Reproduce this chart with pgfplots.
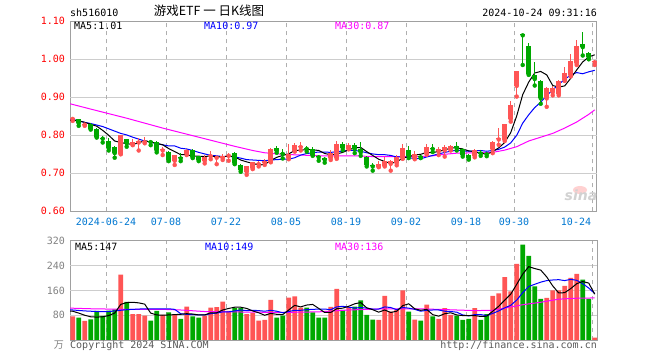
\documentclass[border=0pt]{standalone}
\usepackage{pgfplots}
\pgfplotsset{compat=1.18}
\usepackage{pgfplotstable}
\usepackage{fontspec}
\setmainfont{DejaVu Sans}
\setmonofont{DejaVu Sans Mono}
\newfontfamily\cjk{Noto Sans CJK SC}
\definecolor{cred}{RGB}{255,85,85}
\definecolor{cgreen}{RGB}{0,168,0}
\definecolor{pricered}{RGB}{255,0,0}
\definecolor{dateblue}{RGB}{0,120,210}
\definecolor{labgray}{RGB}{130,130,130}
\definecolor{framegray}{RGB}{160,160,160}
\definecolor{gridgray}{RGB}{175,175,175}
\definecolor{dotgray}{RGB}{205,205,205}
\definecolor{txtgray}{RGB}{90,90,90}
\definecolor{mablue}{RGB}{0,0,255}
\definecolor{mamag}{RGB}{255,0,255}

\pgfplotstableread{
i O H L C
0 0.843 0.848 0.838 0.846
2 0.828 0.832 0.825 0.831
8 0.751 0.800 0.750 0.800
10 0.775 0.790 0.774 0.782
11 0.781 0.793 0.760 0.784
12 0.782 0.795 0.779 0.785
15 0.760 0.770 0.748 0.763
17 0.733 0.749 0.722 0.747
19 0.752 0.763 0.748 0.760
22 0.733 0.748 0.726 0.744
23 0.745 0.759 0.737 0.748
24 0.741 0.746 0.724 0.744
25 0.740 0.751 0.735 0.746
26 0.746 0.753 0.733 0.749
29 0.704 0.719 0.696 0.718
30 0.713 0.731 0.711 0.729
31 0.724 0.733 0.718 0.728
32 0.728 0.738 0.722 0.732
33 0.730 0.766 0.729 0.764
36 0.740 0.777 0.737 0.750
37 0.759 0.779 0.757 0.774
38 0.769 0.782 0.760 0.772
43 0.739 0.760 0.735 0.753
44 0.741 0.786 0.738 0.777
46 0.764 0.779 0.763 0.775
51 0.717 0.732 0.716 0.725
52 0.720 0.744 0.718 0.732
53 0.725 0.735 0.707 0.733
54 0.727 0.748 0.721 0.742
55 0.740 0.777 0.738 0.767
57 0.740 0.759 0.737 0.751
59 0.751 0.776 0.749 0.769
61 0.758 0.768 0.748 0.763
62 0.760 0.775 0.744 0.769
63 0.762 0.775 0.760 0.771
67 0.746 0.763 0.742 0.760
70 0.763 0.785 0.753 0.783
71 0.789 0.818 0.775 0.792
72 0.788 0.830 0.785 0.829
73 0.843 0.890 0.836 0.880
74 0.930 0.970 0.902 0.969
79 0.897 0.928 0.875 0.924
80 0.913 0.930 0.905 0.924
81 0.909 0.946 0.905 0.943
82 0.946 0.981 0.943 0.963
83 0.958 1.015 0.955 0.995
84 0.989 1.051 0.985 1.034
87 0.992 0.998 0.985 0.996
}\redc

\pgfplotstableread{
i O H L C
1 0.842 0.844 0.825 0.832
3 0.830 0.832 0.815 0.817
4 0.817 0.818 0.794 0.796
5 0.794 0.798 0.781 0.791
6 0.785 0.792 0.760 0.766
7 0.768 0.773 0.741 0.753
9 0.790 0.791 0.770 0.779
13 0.785 0.788 0.774 0.782
14 0.782 0.784 0.755 0.760
16 0.756 0.758 0.732 0.735
18 0.742 0.753 0.732 0.739
20 0.760 0.763 0.740 0.742
21 0.745 0.746 0.732 0.735
27 0.753 0.755 0.724 0.726
28 0.722 0.724 0.704 0.709
34 0.767 0.773 0.754 0.759
35 0.754 0.764 0.739 0.751
39 0.767 0.771 0.757 0.764
40 0.764 0.770 0.746 0.748
41 0.745 0.747 0.733 0.742
42 0.739 0.742 0.728 0.736
45 0.777 0.783 0.761 0.767
47 0.775 0.780 0.753 0.764
48 0.765 0.782 0.746 0.755
49 0.744 0.746 0.718 0.723
50 0.721 0.728 0.707 0.718
56 0.761 0.772 0.740 0.746
58 0.745 0.748 0.740 0.742
60 0.767 0.777 0.756 0.764
64 0.772 0.783 0.760 0.767
65 0.763 0.766 0.744 0.749
66 0.748 0.750 0.736 0.739
68 0.755 0.760 0.746 0.752
69 0.754 0.757 0.745 0.750
75 1.066 1.067 0.985 1.063
76 1.036 1.042 0.959 0.961
77 0.958 0.992 0.931 0.948
78 0.943 0.945 0.883 0.897
85 1.040 1.071 1.010 1.032
86 1.016 1.020 1.000 1.005
}\greenc

\pgfplotstableread{
i v
0 76
2 62
8 211
10 84
11 84
12 79
15 81
17 81
19 108
22 79
23 105
24 106
25 124
26 94
29 84
30 87
31 63
32 65
33 130
36 137
37 141
38 105
43 107
44 165
46 106
51 65
52 143
53 92
54 97
55 160
57 66
59 114
61 68
62 103
63 81
67 103
70 143
71 151
72 203
73 157
74 246
79 136
80 160
81 160
82 175
83 201
84 214
87 8
}\volred

\pgfplotstableread{
i v
1 72
3 67
4 94
5 78
6 95
7 99
9 123
13 63
14 94
16 89
18 68
20 76
21 72
27 103
28 103
34 72
35 79
39 105
40 89
41 72
42 72
45 97
47 108
48 128
49 81
50 66
56 92
58 63
60 76
64 79
65 65
66 68
68 65
69 84
75 308
76 272
77 173
78 133
85 195
86 133
}\volgreen

\pgfplotstableread{
i v
-0.45 0.839
0 0.839
1 0.838
2 0.834
3 0.829
4 0.824
5 0.813
6 0.800
7 0.785
8 0.781
9 0.778
10 0.776
11 0.780
12 0.786
13 0.782
14 0.779
15 0.775
16 0.765
17 0.757
18 0.749
19 0.749
20 0.745
21 0.745
22 0.744
23 0.746
24 0.743
25 0.743
26 0.746
27 0.743
28 0.735
29 0.730
30 0.726
31 0.722
32 0.723
33 0.734
34 0.742
35 0.747
36 0.751
37 0.760
38 0.761
39 0.762
40 0.762
41 0.760
42 0.752
43 0.749
44 0.751
45 0.755
46 0.762
47 0.767
48 0.768
49 0.757
50 0.747
51 0.737
52 0.731
53 0.726
54 0.730
55 0.740
56 0.744
57 0.748
58 0.750
59 0.755
60 0.754
61 0.758
62 0.761
63 0.767
64 0.767
65 0.764
66 0.759
67 0.757
68 0.753
69 0.750
70 0.757
71 0.767
72 0.781
73 0.807
74 0.851
75 0.907
76 0.940
77 0.964
78 0.968
79 0.959
80 0.931
81 0.927
82 0.930
83 0.950
84 0.972
85 0.993
86 1.006
87 1.012
}\mafive

\pgfplotstableread{
i v
-0.45 0.843
0 0.842
1 0.838
2 0.834
3 0.831
4 0.827
5 0.823
6 0.817
7 0.811
8 0.805
9 0.801
10 0.795
11 0.790
12 0.785
13 0.782
14 0.778
15 0.775
16 0.772
17 0.772
18 0.766
19 0.764
20 0.760
21 0.755
22 0.751
23 0.747
24 0.746
25 0.744
26 0.745
27 0.743
28 0.740
29 0.736
30 0.735
31 0.734
32 0.733
33 0.735
34 0.736
35 0.737
36 0.737
37 0.741
38 0.748
39 0.752
40 0.754
41 0.756
42 0.756
43 0.755
44 0.757
45 0.758
46 0.761
47 0.760
48 0.758
49 0.754
50 0.751
51 0.749
52 0.749
53 0.747
54 0.743
55 0.743
56 0.741
57 0.739
58 0.738
59 0.743
60 0.747
61 0.751
62 0.755
63 0.758
64 0.761
65 0.759
66 0.758
67 0.759
68 0.760
69 0.758
70 0.760
71 0.763
72 0.769
73 0.780
74 0.800
75 0.832
76 0.854
77 0.873
78 0.887
79 0.905
80 0.919
81 0.934
82 0.947
83 0.959
84 0.965
85 0.962
86 0.967
87 0.971
}\maten

\pgfplotstableread{
i v
-0.45 0.883
3 0.869
6 0.857
9 0.845
12 0.832
15 0.819
18 0.807
21 0.795
24 0.783
27 0.771
30 0.760
32 0.754
35 0.750
38 0.748
41 0.746
44 0.746
47 0.746
50 0.744
54 0.744
58 0.744
60 0.746
62 0.750
64 0.753
68 0.754
70 0.755
72 0.761
74 0.770
76 0.785
78 0.795
80 0.805
82 0.819
84 0.835
86 0.855
87 0.867
}\mathirty

\pgfplotstableread{
i v
-0.45 93
0 93
1 87
2 80
3 75
4 74
5 75
6 79
7 87
8 115
9 121
10 122
11 120
12 116
13 87
14 81
15 80
16 81
17 82
18 83
19 85
20 84
21 81
22 81
23 88
24 88
25 97
26 102
27 106
28 106
29 102
30 94
31 88
32 80
33 86
34 83
35 82
36 97
37 112
38 107
39 113
40 115
41 102
42 89
43 89
44 101
45 103
46 109
47 117
48 121
49 104
50 98
51 90
52 97
53 89
54 93
55 111
56 117
57 101
58 96
59 99
60 82
61 77
62 85
63 88
64 81
65 79
66 79
67 79
68 76
69 77
70 93
71 109
72 129
73 148
74 180
75 213
76 237
77 231
78 226
79 204
80 175
81 152
82 153
83 166
84 182
85 189
86 184
87 148
}\vfive

\pgfplotstableread{
i v
-0.45 97
0 97
2 94
4 92
6 92
8 96
9 98
10 99
11 100
12 101
13 101
14 101
15 101
16 101
17 99
18 85
19 83
20 82
21 81
22 81
23 85
24 87
25 91
26 91
27 94
28 97
29 95
30 96
31 95
32 93
33 96
34 93
35 88
36 92
37 96
38 96
39 98
40 99
41 100
42 100
43 98
44 107
45 109
46 106
47 103
48 105
49 103
50 100
51 100
52 107
53 105
54 98
55 105
56 103
57 99
58 93
59 96
60 97
61 97
62 93
63 92
64 90
65 81
66 78
67 82
68 82
69 79
70 86
71 94
72 104
73 112
74 129
75 153
76 173
77 180
78 187
79 192
80 194
81 195
82 192
83 196
84 193
85 182
86 168
87 150
}\vten

\pgfplotstableread{
i v
-0.45 103
3 101
9 99
15 99
18 97
22 92
26 91
30 90
35 89
41 91
46 97
52 101
57 101
61 99
64 97
67 95
70 96
72 103
75 114
78 122
81 132
84 135
87 136
}\vthirty

% dash segments of the vertical date lines (start, end, break)
\pgfplotstableread{
y
0.6000
0.6105
nan
0.6211
0.6316
nan
0.6421
0.6526
nan
0.6632
0.6737
nan
0.6842
0.6947
nan
0.7053
0.7158
nan
0.7263
0.7368
nan
0.7474
0.7579
nan
0.7684
0.7789
nan
0.7895
0.8000
nan
0.8105
0.8210
nan
0.8316
0.8421
nan
0.8526
0.8631
nan
0.8737
0.8842
nan
0.8947
0.9052
nan
0.9158
0.9263
nan
0.9368
0.9473
nan
0.9579
0.9684
nan
0.9789
0.9894
nan
1.0000
1.0105
nan
1.0211
1.0316
nan
1.0421
1.0526
nan
1.0632
1.0737
nan
1.0842
1.0947
}\pdash

\pgfplotstableread{
y
0
12.9
nan
25.9
38.8
nan
51.7
64.6
nan
77.6
90.5
nan
103.4
116.3
nan
129.3
142.2
nan
155.2
168.1
nan
181.0
193.9
nan
206.9
219.8
nan
232.7
245.6
nan
258.6
271.5
nan
284.5
297.4
nan
310.3
320
}\vdash

\pgfplotsset{
  kbase/.style={scale only axis, width=527bp, xmin=-0.45, xmax=87.38,
    axis line style={draw=framegray, line width=1bp},
    major tick length=0pt,
    xtick={5.55,15.55,25.55,35.55,45.55,55.55,65.55,73.55},
    extra x ticks={86.55},
    tick label style={font=\fontsize{10bp}{12bp}\selectfont\ttfamily},
    yticklabel style={xshift=-1.5bp, /pgf/number format/assume math mode=true},
    unbounded coords=jump,
  },
  hgrid/.style={dotgray, line width=1bp, forget plot},
  vgrid/.style={gridgray, line width=1bp, mark=none, forget plot},
  candle/.style 2 args={#1, only marks, mark=none, forget plot,
    error bars/.cd, y dir=plus, y explicit, error mark=none,
    error bar style={#1, line width=#2}},
  maline/.style={#1, line width=1bp, mark=none, forget plot},
}

\begin{document}
\begin{tikzpicture}
\useasboundingbox (0,0) rectangle (660bp,360bp);
\fill[white] (0,0) rectangle (660bp,360bp);

\begin{axis}[kbase, at={(70bp,148.7bp)}, anchor=south west, height=190bp,
  ymin=0.6, ymax=1.1, ytick={0.6,0.7,0.8,0.9,1.0,1.1},
  xticklabels={2024-06-24,07-08,07-22,08-05,08-19,09-02,09-18,09-30},
  extra x tick labels={10-24},
  extra x tick style={xticklabel style={xshift=-16bp}},
  xticklabel style={text=dateblue, yshift=-3.4bp},
  yticklabel style={text=pricered, /pgf/number format/.cd, fixed, fixed zerofill, precision=2},
]
\pgfplotsinvokeforeach{0.7,0.8,0.9,1.0}{
  \addplot[hgrid] coordinates {(-0.45,#1) (87.38,#1)};
}
\pgfplotsinvokeforeach{5.55,15.55,25.55,35.55,45.55,55.55,65.55,73.55,86.55}{
  \addplot[vgrid] table[x expr=#1, y=y] {\pdash};
}
\addplot[maline=mamag] table[x=i,y=v]{\mathirty};
\addplot[maline=mablue] table[x=i,y=v]{\maten};
\addplot[maline=black] table[x=i,y=v]{\mafive};
\addplot[candle={cred}{1bp}] table[x=i, y=L, y error plus expr=\thisrow{H}-\thisrow{L}] {\redc};
\addplot[candle={cred}{4.6bp}] table[x=i, y=O, y error plus expr=\thisrow{C}-\thisrow{O}] {\redc};
\addplot[candle={cgreen}{1bp}] table[x=i, y=L, y error plus expr=\thisrow{H}-\thisrow{L}] {\greenc};
\addplot[candle={cgreen}{4.6bp}] table[x=i, y=C, y error plus expr=\thisrow{O}-\thisrow{C}] {\greenc};
\end{axis}

\begin{axis}[kbase, at={(70bp,20bp)}, anchor=south west, height=99bp,
  ymin=0, ymax=320, ytick={80,160,240,320},
  xticklabels={}, extra x tick labels={},
  yticklabel style={text=labgray},
]
\pgfplotsinvokeforeach{80,160,240}{
  \addplot[hgrid] coordinates {(-0.45,#1) (87.38,#1)};
}
\pgfplotsinvokeforeach{5.55,15.55,25.55,35.55,45.55,55.55,65.55,73.55,86.55}{
  \addplot[vgrid] table[x expr=#1, y=y] {\vdash};
}
\addplot[ybar, bar width=4.7bp, bar shift=0pt, fill=cred, draw=none, forget plot] table[x=i,y=v]{\volred};
\addplot[ybar, bar width=4.7bp, bar shift=0pt, fill=cgreen, draw=none, forget plot] table[x=i,y=v]{\volgreen};
\addplot[maline=mamag] table[x=i,y=v]{\vthirty};
\addplot[maline=mablue] table[x=i,y=v]{\vten};
\addplot[maline=black] table[x=i,y=v]{\vfive};
\end{axis}

% watermark
\fill[red!18] (580bp,170bp) ellipse (7bp and 4bp);
\node[anchor=base, inner sep=0, text=gray!35, font=\fontsize{14bp}{14bp}\selectfont\bfseries\itshape] at (581bp,159bp) {sina};

\begin{scope}[every node/.style={inner sep=0, font=\fontsize{10bp}{12bp}\selectfont\ttfamily}]
\node[anchor=base west] at (70bp,343bp) {sh516010};
\node[anchor=base east] at (597bp,343bp) {2024-10-24 09:31:16};
\node[anchor=base west] at (74bp,330bp) {MA5:1.01};
\node[anchor=base west, text=mablue] at (204bp,330bp) {MA10:0.97};
\node[anchor=base west, text=mamag] at (335bp,330bp) {MA30:0.87};
\node[anchor=base west] at (75bp,109bp) {MA5:147};
\node[anchor=base west, text=mablue] at (205bp,109bp) {MA10:149};
\node[anchor=base west, text=mamag] at (335bp,109bp) {MA30:136};
\node[anchor=base west, text=txtgray] at (70bp,11.5bp) {Copyright 2024 SINA.COM};
\node[anchor=base east, text=txtgray] at (597bp,11.5bp) {http://finance.sina.com.cn};
\node[anchor=base east, text=labgray, font=\fontsize{10bp}{12bp}\selectfont\cjk] at (64bp,12bp) {万};
\end{scope}
\node[anchor=base, inner sep=0, font=\fontsize{12.5bp}{14bp}\selectfont\cjk] at (209bp,344bp) {游戏ETF 一 日K线图};
\end{tikzpicture}
\end{document}
